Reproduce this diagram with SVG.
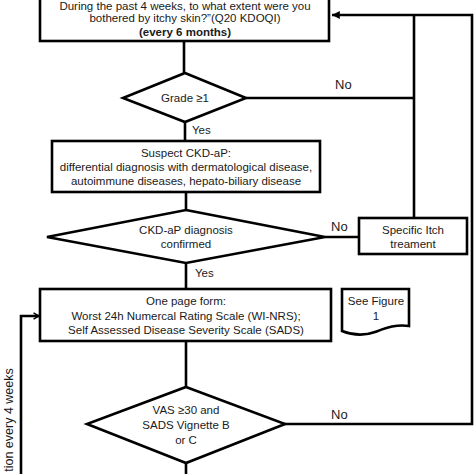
<svg xmlns="http://www.w3.org/2000/svg" width="474" height="474" viewBox="0 0 474 474">
<style>
.s{fill:#fff;stroke:#000;stroke-width:2.6}
.c{fill:none;stroke:#000;stroke-width:2.6}
text{font-family:"Liberation Sans",Arial,sans-serif;font-size:11.5px;fill:#1a1a1a;text-anchor:middle}
.b{font-weight:bold}
.l{text-anchor:start}
</style>
<defs>
<marker id="tri" viewBox="0 0 10 10" refX="10" refY="5" markerWidth="3" markerHeight="3" orient="auto" markerUnits="strokeWidth">
<path d="M0,0 L10,5 L0,10 Z" fill="#000"/>
</marker>
<marker id="chev" viewBox="0 0 10 10" refX="9" refY="5" markerWidth="3" markerHeight="3" orient="auto" markerUnits="strokeWidth">
<path d="M2,1 L9,5 L2,9" fill="none" stroke="#000" stroke-width="2"/>
</marker>
</defs>
<rect width="474" height="474" fill="#fff"/>
<g id="connectors">
<line class="c" x1="184" y1="41" x2="184" y2="73"/>
<line class="c" x1="185" y1="122" x2="185" y2="141"/>
<line class="c" x1="246" y1="98" x2="414" y2="98"/>
<line class="c" x1="414" y1="218" x2="414" y2="15"/>
<polyline class="c" points="186,424 472,424 472,15 332,15" marker-end="url(#tri)"/>
<line class="c" x1="186" y1="192" x2="186" y2="210"/>
<line class="c" x1="325" y1="237" x2="359" y2="237"/>
<line class="c" x1="186" y1="263" x2="186" y2="289"/>
<line class="c" x1="186" y1="341" x2="186" y2="387"/>
<line class="c" x1="186" y1="463" x2="186" y2="476"/>
<polyline class="c" points="21,476 21,316 39,316" marker-end="url(#chev)"/>
<text x="335" y="89" class="l" style="font-size:13px">No</text>
<text x="192" y="134" class="l">Yes</text>
<text x="331" y="231" class="l" style="font-size:13px">No</text>
<text x="195" y="277" class="l">Yes</text>
<text x="331" y="419" class="l" style="font-size:13px">No</text>
<text transform="translate(13,420) rotate(-90)" style="font-size:12.5px">tion  every 4 weeks</text>
</g>
<g id="n-question">
<rect class="s" x="40" y="-10" width="289" height="51"/>
<text x="185" y="9.5">During the past 4 weeks, to what extent were you</text>
<text x="185" y="22">bothered by itchy skin?”(Q20 KDOQI)</text>
<text x="185" y="35.5" class="b">(every 6 months)</text>
</g>
<g id="n-grade">
<polygon class="s" points="185,73 246,98 185,122 123,98"/>
<text x="185" y="102">Grade ≥1</text>
</g>
<g id="n-suspect">
<rect class="s" x="52" y="141" width="268" height="51"/>
<text x="186" y="157">Suspect CKD-aP:</text>
<text x="186" y="171">differential diagnosis with dermatological disease,</text>
<text x="186" y="185">autoimmune diseases, hepato-biliary disease</text>
</g>
<g id="n-confirmed">
<polygon class="s" points="186,210 325,237 186,263 47,237"/>
<text x="186" y="234">CKD-aP diagnosis</text>
<text x="186" y="248">confirmed</text>
</g>
<g id="n-itch">
<rect class="s" x="359" y="218" width="108" height="36"/>
<text x="413" y="234">Specific  Itch</text>
<text x="413" y="248">treament</text>
</g>
<g id="n-form">
<rect class="s" x="40" y="289" width="291" height="52"/>
<text x="186" y="305">One page form:</text>
<text x="186" y="320">Worst 24h Numercal Rating Scale (WI-NRS);</text>
<text x="186" y="334">Self Assessed Disease Severity Scale (SADS)</text>
</g>
<g id="n-seefigure">
<path class="s" d="M342,289 H409 V326 C396,324 386,328 375,332 C364,336 352,335 342,331 Z"/>
<text x="376" y="305">See Figure</text>
<text x="376" y="320">1</text>
</g>
<g id="n-vas">
<polygon class="s" points="186,387 285,424 186,463 87,424"/>
<text x="186" y="414">VAS ≥30  and</text>
<text x="186" y="429">SADS Vignette B</text>
<text x="186" y="444">or C</text>
</g>
</svg>
